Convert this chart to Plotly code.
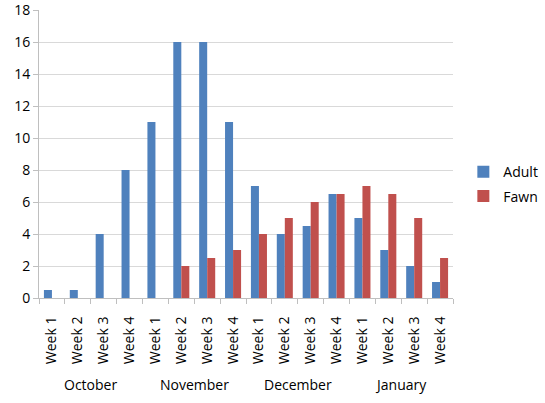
import plotly.graph_objects as go

# deer sightings per week
months = ["October", "November", "December", "January"]
weeks = ["Week 1", "Week 2", "Week 3", "Week 4"]
adult = [0.5, 0.5, 4, 8, 11, 16, 16, 11, 7, 4, 4.5, 6.5, 5, 3, 2, 1]
fawn = [0, 0, 0, 0, 0, 2, 2.5, 3, 4, 5, 6, 6.5, 7, 6.5, 5, 2.5]

week_labels = [w for m in months for w in weeks]
x = list(range(len(week_labels)))

font = "Open Sans"
axis_grey = "#BFBFBF"

fig = go.Figure()
fig.add_trace(go.Bar(x=x, y=adult, name="Adult", legendgroup="adult",
                     marker=dict(color="#4F81BD", line=dict(width=0))))
fig.add_trace(go.Bar(x=x, y=fawn, name="Fawn", legendgroup="fawn",
                     marker=dict(color="#C0504D", line=dict(width=0))))

# month group labels below the week labels
for i, m in enumerate(months):
    fig.add_annotation(x=i * 4 + 1.5, y=-0.30, xref="x", yref="paper",
                       text=m, showarrow=False, yanchor="middle",
                       font=dict(family=font, size=14, color="black"))

fig.update_layout(
    width=545, height=403,
    margin=dict(l=39, r=92, t=10, b=105, autoexpand=False),
    paper_bgcolor="white", plot_bgcolor="white",
    barmode="group", bargap=0.38, bargroupgap=0,
    font=dict(family=font, size=13, color="black"),
    legend=dict(x=1.025, y=0.395, yanchor="middle", xanchor="left",
                font=dict(family=font, size=14), itemwidth=30,
                tracegroupgap=3),
    showlegend=True,
)
fig.update_xaxes(
    range=[-0.5, len(x) - 0.5], automargin=False,
    tickmode="array", tickvals=x, ticktext=week_labels,
    tickangle=-90, ticks="", showgrid=False, ticklabelstandoff=12,
    showline=True, linecolor=axis_grey, linewidth=1,
    tickfont=dict(family=font, size=14),
    minor=dict(tickmode="array", tickvals=[v - 0.5 for v in x] + [len(x) - 0.5],
               ticks="outside", ticklen=5, tickcolor=axis_grey, showgrid=False),
)
fig.update_yaxes(
    range=[0, 18], dtick=2, automargin=False,
    showgrid=True, gridcolor="#D9D9D9", gridwidth=1,
    showline=True, linecolor=axis_grey, linewidth=1,
    ticks="outside", ticklen=5, tickcolor=axis_grey,
    zeroline=False, ticklabeloverflow="allow",
    tickfont=dict(family=font, size=14),
)

# drop the default body margin so the figure sits at the page corner
fig.write_html("out.html", config={"displayModeBar": False},
               post_script="document.body.style.margin = '0';")
